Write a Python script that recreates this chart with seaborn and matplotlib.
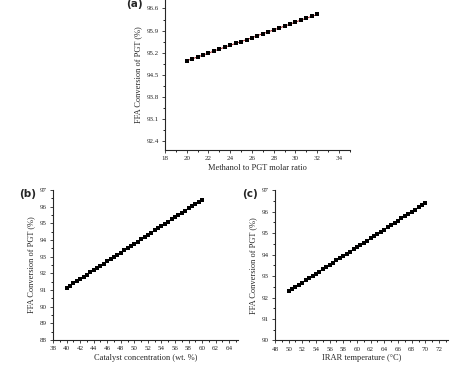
import numpy as np
import pandas as pd
import matplotlib
matplotlib.use("Agg")
import matplotlib.pyplot as plt
import seaborn as sns
from matplotlib.ticker import MultipleLocator, FormatStrFormatter

# Données
methanol_ratio = [20.0, 20.5, 21.0, 21.5, 22.0, 22.5, 23.0, 23.5, 24.0, 24.5, 25.0, 25.5, 26.0,
                  26.5, 27.0, 27.5, 28.0, 28.5, 29.0, 29.5, 30.0, 30.5, 31.0, 31.5, 32.0]
conv_methanol = [94.94, 95.00, 95.06, 95.12, 95.18, 95.25, 95.31, 95.37, 95.43, 95.49, 95.55,
                 95.61, 95.67, 95.74, 95.80, 95.86, 95.92, 95.98, 96.04, 96.10, 96.17, 96.23,
                 96.29, 96.35, 96.41]

catalyst_conc = [40.0, 40.5, 41.0, 41.5, 42.0, 42.5, 43.0, 43.5, 44.0, 44.5, 45.0, 45.5, 46.0,
                 46.5, 47.0, 47.5, 48.0, 48.5, 49.0, 49.5, 50.0, 50.5, 51.0, 51.5, 52.0, 52.5,
                 53.0, 53.5, 54.0, 54.5, 55.0, 55.5, 56.0, 56.5, 57.0, 57.5, 58.0, 58.5, 59.0,
                 59.5, 60.0]
conv_catalyst = [91.12, 91.25, 91.39, 91.52, 91.65, 91.78, 91.92, 92.05, 92.18, 92.31, 92.45,
                 92.58, 92.71, 92.84, 92.98, 93.11, 93.24, 93.37, 93.51, 93.64, 93.77, 93.90,
                 94.04, 94.17, 94.30, 94.43, 94.57, 94.70, 94.83, 94.96, 95.10, 95.23, 95.36,
                 95.49, 95.63, 95.76, 95.89, 96.02, 96.16, 96.29, 96.42]

irar_temp = [50.0, 50.5, 51.0, 51.5, 52.0, 52.5, 53.0, 53.5, 54.0, 54.5, 55.0, 55.5, 56.0,
             56.5, 57.0, 57.5, 58.0, 58.5, 59.0, 59.5, 60.0, 60.5, 61.0, 61.5, 62.0, 62.5,
             63.0, 63.5, 64.0, 64.5, 65.0, 65.5, 66.0, 66.5, 67.0, 67.5, 68.0, 68.5, 69.0,
             69.5, 70.0]
conv_temp = [92.28, 92.38, 92.49, 92.59, 92.69, 92.80, 92.90, 93.00, 93.11, 93.21, 93.31,
             93.42, 93.52, 93.62, 93.73, 93.83, 93.93, 94.04, 94.14, 94.24, 94.35, 94.45,
             94.55, 94.65, 94.76, 94.86, 94.96, 95.07, 95.17, 95.27, 95.38, 95.48, 95.58,
             95.69, 95.79, 95.89, 96.00, 96.10, 96.20, 96.31, 96.41]

sns.set_style("ticks")
plt.rcParams['font.family'] = ['Liberation Serif', 'DejaVu Serif']
plt.rcParams['axes.linewidth'] = 0.8

fig = plt.figure(figsize=(4.74, 3.68), dpi=100)

panels = [
    ("(a)", -0.12, methanol_ratio, conv_methanol, "Methanol to PGT molar ratio",
     [0.348, 0.592, 0.390, 0.408], (18, 35), (92.1, 96.87), 2, 0.7, "%.1f", 92.4),
    ("(b)", -0.09, catalyst_conc, conv_catalyst, "Catalyst concentration (wt. %)",
     [0.112, 0.076, 0.390, 0.408], (38, 65.3), (88, 97), 2, 1, "%d", 88),
    ("(c)", -0.10, irar_temp, conv_temp, "IRAR temperature (\u00b0C)",
     [0.580, 0.075, 0.365, 0.408], (48, 73.3), (90, 97), 2, 1, "%d", 90),
]

for tag, tag_x, xs, ys, xlabel, rect, xlim, ylim, xstep, ystep, yfmt, ybase in panels:
    ax = fig.add_axes(rect)
    df = pd.DataFrame({"x": xs, "y": ys})
    sns.lineplot(data=df, x="x", y="y", ax=ax, color="#a52a2a", linewidth=0.7,
                 marker="s", markersize=2.3, markerfacecolor="black",
                 markeredgecolor="black", markeredgewidth=0)
    ax.set_xlim(*xlim)
    ax.set_ylim(*ylim)
    ax.xaxis.set_major_locator(MultipleLocator(xstep))
    ax.xaxis.set_minor_locator(MultipleLocator(xstep / 2))
    ax.set_yticks(np.arange(ybase, ylim[1] + 1e-6, ystep))
    ax.yaxis.set_minor_locator(MultipleLocator(ystep / 2))
    ax.yaxis.set_major_formatter(FormatStrFormatter(yfmt))
    ax.tick_params(which="major", length=2.5, width=0.6, labelsize=5, pad=2)
    ax.tick_params(which="minor", length=1.6, width=0.6, color="black")
    ax.set_xlabel(xlabel, fontsize=6, labelpad=2)
    ax.set_ylabel("FFA Conversion of PGT (%)", fontsize=6, labelpad=3)
    sns.despine(ax=ax)
    ax.text(tag_x, 0.975, tag, transform=ax.transAxes, fontsize=7.5, fontweight="bold",
            family=["DejaVu Sans"], ha="right", va="center")

fig.savefig("out.png", dpi=100)
